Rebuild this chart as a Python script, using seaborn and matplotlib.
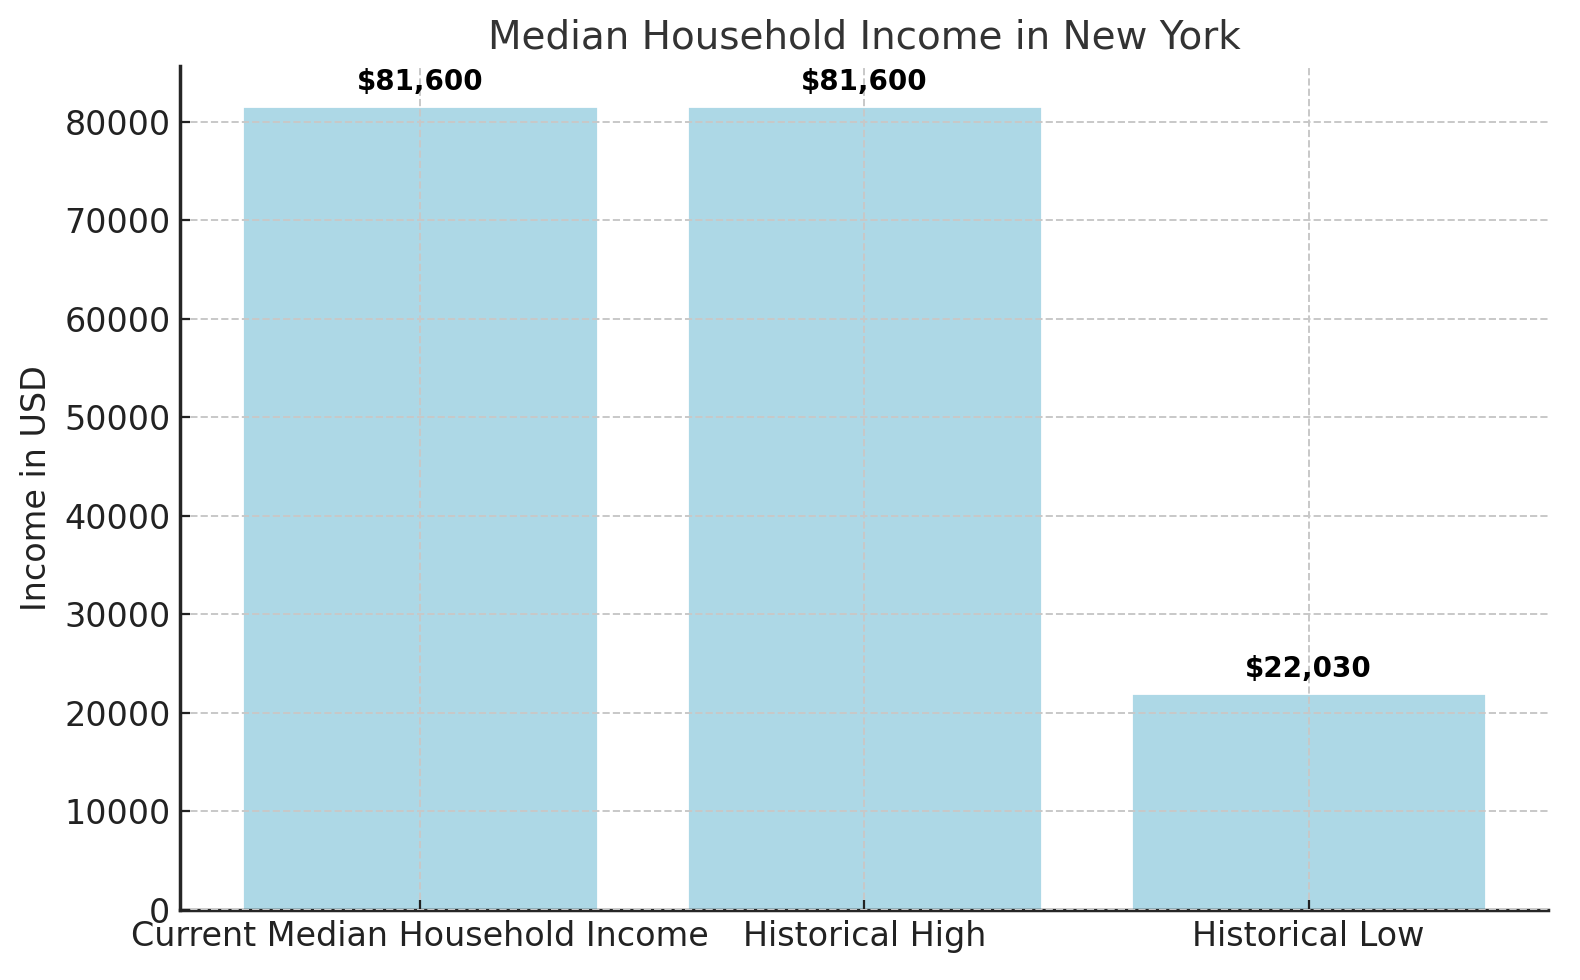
import matplotlib
matplotlib.use("Agg")
import matplotlib.pyplot as plt
import seaborn as sns
import pandas as pd

categories = ["Current Median Household Income", "Historical High", "Historical Low"]
incomes = [81600, 81600, 22030]

sns.set_theme(style="ticks")
plt.rcParams['font.family'] = ['DejaVu Sans']

df = pd.DataFrame({"category": categories, "income": incomes})

fig, ax = plt.subplots(figsize=(7.9, 4.9), dpi=200)
fig.subplots_adjust(left=0.114, right=0.98, top=0.933, bottom=0.0714)
sns.barplot(data=df, x="category", y="income", color="lightblue",
            saturation=1, width=0.8, ax=ax)

for i, v in enumerate(incomes):
    ax.text(i, v + 1000, f"${v:,}", ha="center", va="bottom",
            fontsize=10, fontweight="bold", color="black")

ax.set_title("Median Household Income in New York", fontsize=14, color="#333333")
ax.set_ylabel("Income in USD", fontsize=12, color="#222222", labelpad=4)
ax.set_xlabel("")
ax.tick_params(axis="both", labelsize=12, colors="#222222", direction="in",
               length=3.5, width=0.8, pad=3.5)
ax.grid(True, linestyle="--", color="#c8c8c8", linewidth=0.7)
ax.set_axisbelow(False)
sns.despine(ax=ax)
ax.set_xlim(-0.54, 2.54)
ax.set_ylim(0, 81600 * 1.05)

plt.savefig("out.png", dpi=200)
